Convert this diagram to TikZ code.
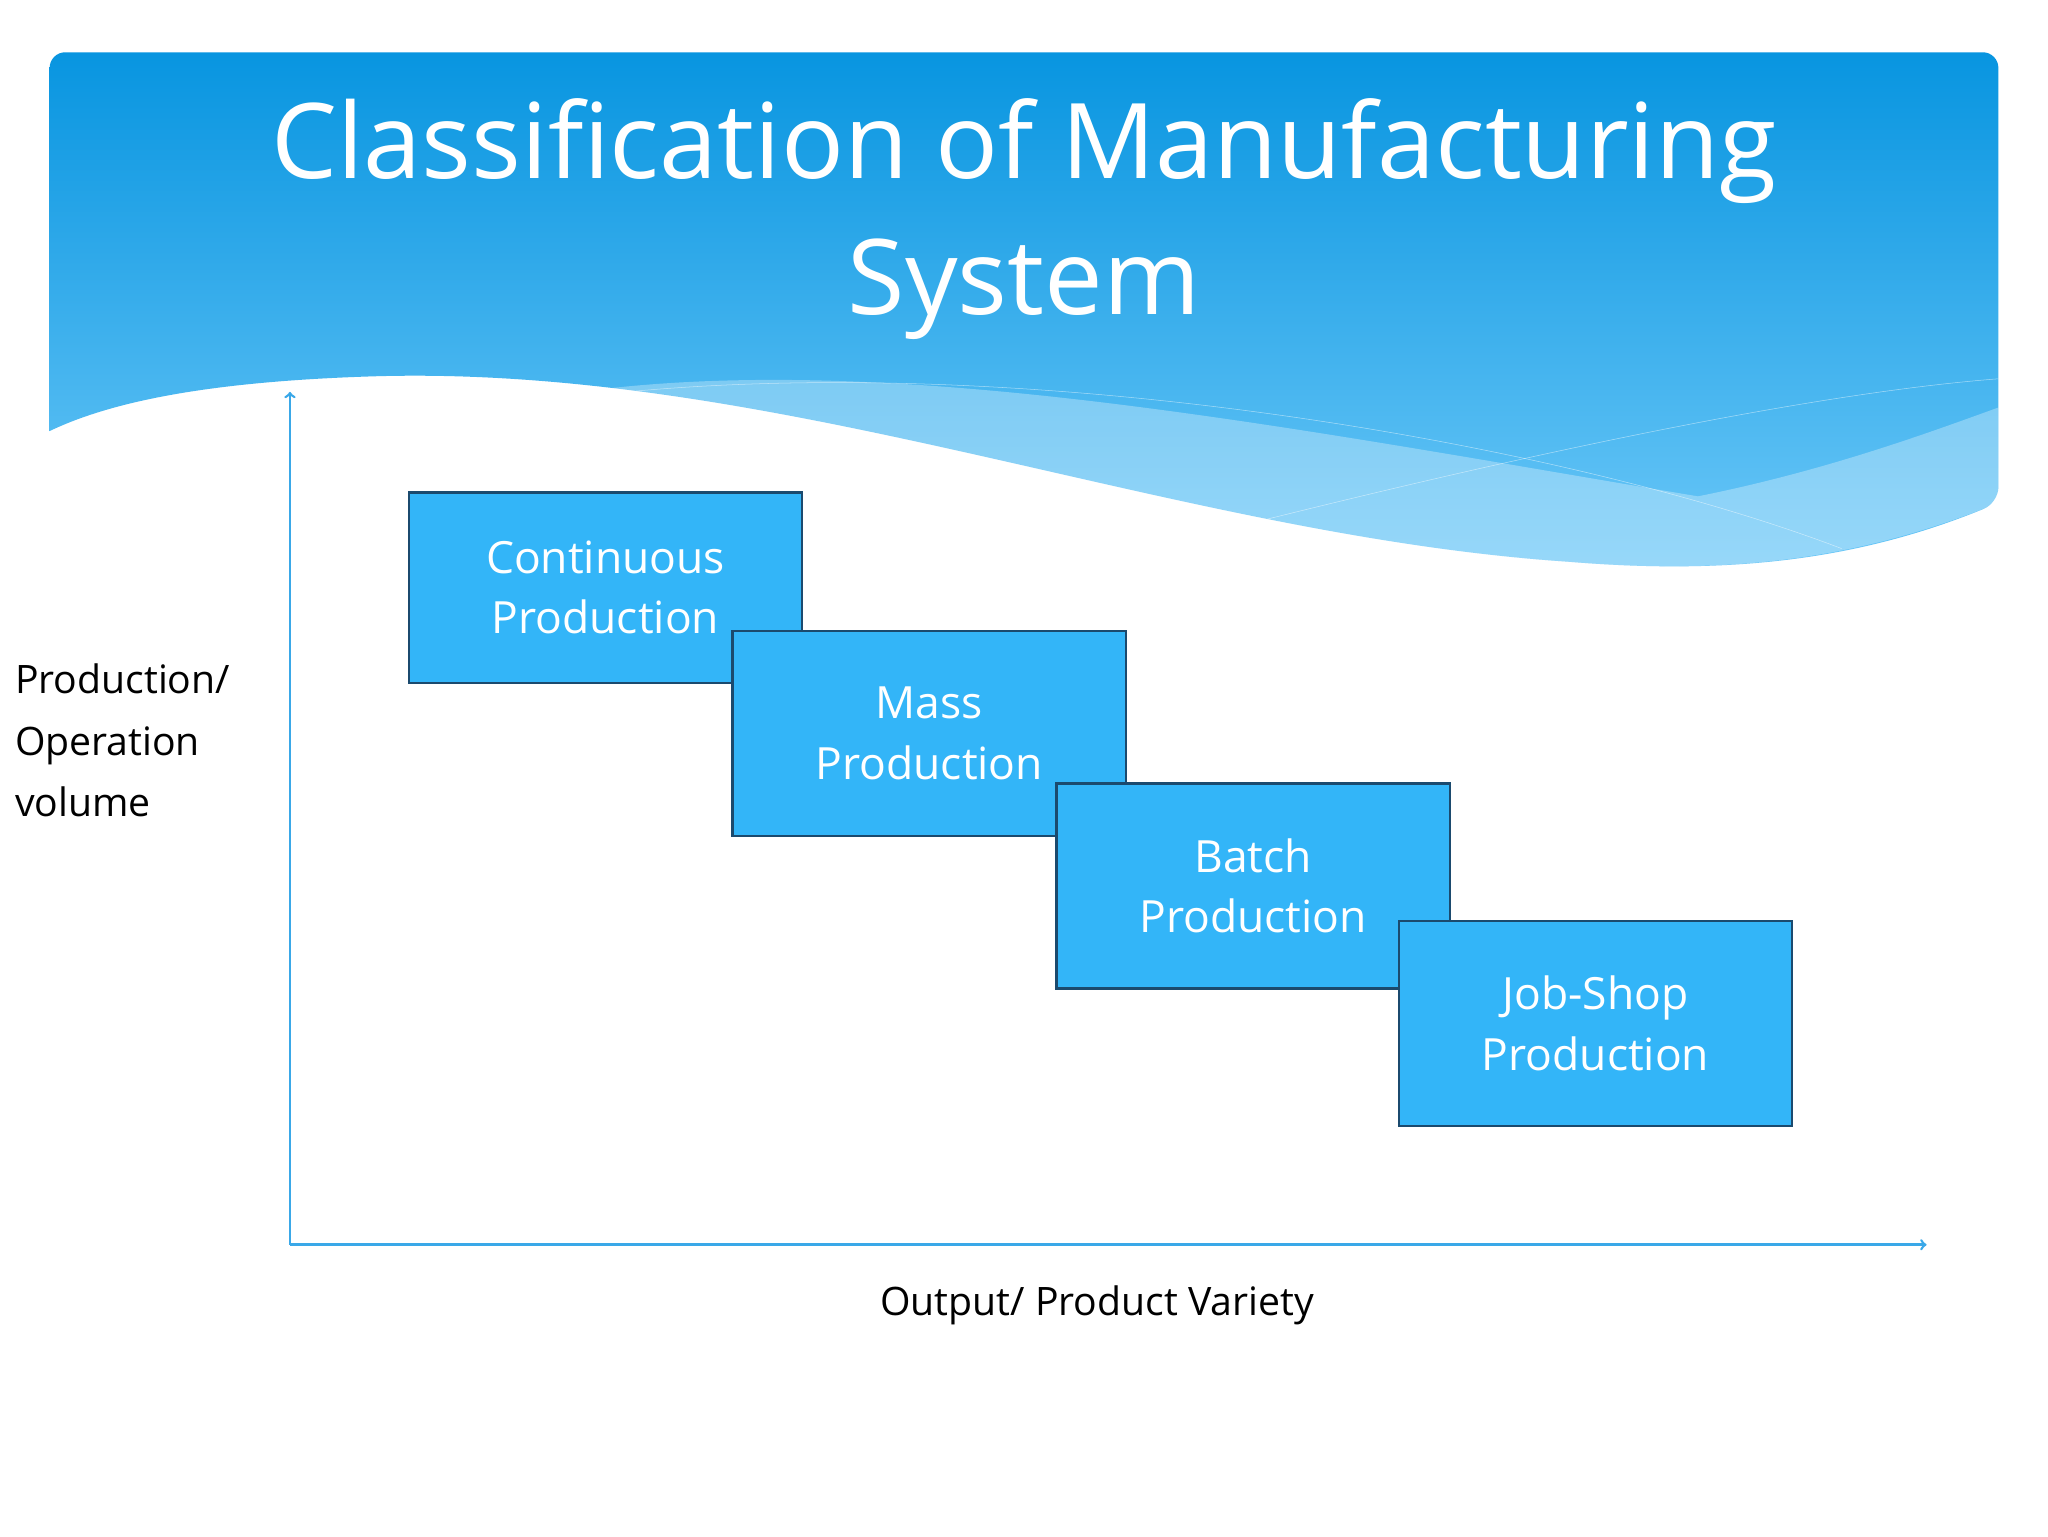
\documentclass[tikz,border=0pt]{standalone}
\usepackage{fontspec}
\setmainfont{Open Sans}
\usetikzlibrary{positioning}
\definecolor{boxblue}{HTML}{33B5F8}
\definecolor{boxline}{HTML}{1B4A6E}
\definecolor{axisblue}{HTML}{3AA8E8}
\definecolor{topblue}{HTML}{0895E0}
\definecolor{lowblue}{HTML}{6CC8F8}

\begin{document}
\begin{tikzpicture}[%
    x=1pt,
    y=-1pt,
    >=to,
    kind/.style={%
      draw=boxline,
      line width=2pt,
      fill=boxblue,
      text=white,
      minimum width=301pt,
      minimum height=146pt,
      align=center,
      font=\fontsize{34}{46}\selectfont
    },
    axis/.style={%
      ->,
      axisblue,
      line width=2pt
    }
  ]
    \useasboundingbox[fill=white] (0,0) rectangle (1568,1176);
    % header band
    \shade[top color=topblue, bottom color=lowblue, rounded corners=12pt]
      (38,330) -- (38,40) -- (1530,40) -- (1530,385)
      [sharp corners] .. controls (1420,430) and (1320,440) .. (1200,430)
      .. controls (900,410) and (600,280) .. (290,288)
      .. controls (150,292) and (80,310) .. (38,330);
    \fill[white, opacity=0.3]
      (460,298) .. controls (700,270) and (1000,330) .. (1300,380)
      .. controls (1400,360) and (1480,330) .. (1530,312) -- (1530,385)
      .. controls (1420,430) and (1320,440) .. (1200,430)
      .. controls (900,410) and (700,330) .. (460,298);
    \draw[white, opacity=0.5] (480,300) .. controls (800,270) and (1200,340) .. (1410,420);
    \draw[white, opacity=0.5] (960,400) .. controls (1200,340) and (1400,300) .. (1530,290);
    \node[text=white, align=center, font=\fontsize{80}{104}\selectfont] (title) at (784,168)
      {Classification of Manufacturing\\System};
    % axes
    \coordinate (o) at (222,953);
    \coordinate (ytop) at (222,300);
    \coordinate (xend) at (1475,953);
    \draw[axis] (o) -- (ytop);
    \draw[axis] (o) -- (xend);
    % kinds
    \node[kind] (cont) at (463.5,450)  {Continuous\\Production};
    \node[kind, minimum height=157pt] (mass) at (711.5,561.5)  {Mass\\Production};
    \node[kind, minimum height=157pt] (batch) at (959.5,678.5) {Batch\\Production};
    \node[kind, minimum height=157pt] (job) at (1221.5,783.5)  {Job-Shop\\Production};
    % labels
    \node[anchor=north west, align=left, font=\fontsize{30}{47}\selectfont] (ylab) at (8,505)
      {Production/\\Operation\\volume};
    \node[font=\fontsize{30}{40}\selectfont] (xlab) at (840,999) {Output/ Product Variety};
  \end{tikzpicture}
\end{document}
